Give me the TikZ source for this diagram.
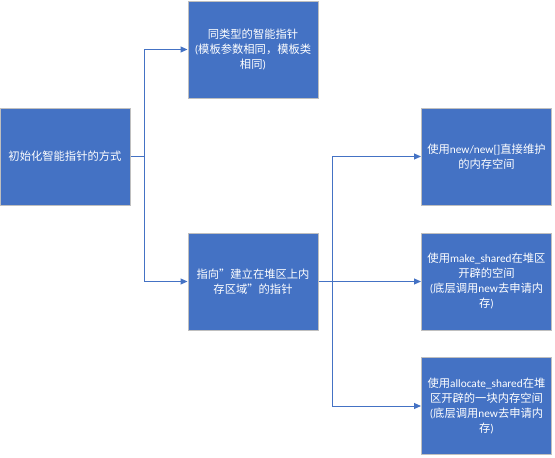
\documentclass[tikz,border=0pt]{standalone}
\usepackage{fontspec}
\setmainfont{Carlito}
\newfontfamily\cjk{Noto Sans CJK SC}
\newfontfamily\lat{Carlito}
\usetikzlibrary{arrows.meta}
\definecolor{boxblue}{HTML}{4472C4}
\definecolor{boxedge}{HTML}{BFBFBF}
\definecolor{linkblue}{HTML}{4472C4}
\tikzset{
  blk/.style={rectangle, fill=boxblue, draw=boxedge, line width=1pt,
    minimum width=130pt, minimum height=97pt, inner sep=0pt,
    text=white, align=center, font=\cjk\fontsize{11.3}{15}\selectfont},
  link/.style={draw=linkblue, line width=1pt},
  arr/.style={link, -{Triangle[length=7pt,width=6pt]}}
}
\begin{document}
\begin{tikzpicture}[x=1pt,y=-1pt]
\useasboundingbox[fill=white] (0,0) rectangle (555,458);
\node[blk] (A) at (65,156.5) {初始化智能指针的方式};
\node[blk] (B) at (253,49.5) {同类型的智能指针\\{\lat(}模板参数相同，模板类\\相同{\lat)}};
\node[blk] (C) at (253,281.5) {指向”建立在堆区上内\\存区域”的指针};
\node[blk] (D) at (486.5,156.5) {使用{\lat new/new[]}直接维护\\的内存空间};
\node[blk] (E) at (486.5,281.5) {使用{\lat make\_shared}在堆区\\开辟的空间\\{\lat(}底层调用{\lat new}去申请内\\存{\lat)}};
\node[blk] (F) at (486.5,406) {使用{\lat allocate\_shared}在堆\\区开辟的一块内存空间\\{\lat(}底层调用{\lat new}去申请内\\存{\lat)}};
\coordinate (j1) at (144,156.5);
\coordinate (j2) at (332,281.5);
\draw[link] (A.east) -- (j1);
\draw[arr] (j1) |- (B.west);
\draw[arr] (j1) |- (C.west);
\draw[arr] (C.east) -- (E.west);
\draw[arr] (j2) |- (D.west);
\draw[arr] (j2) |- (F.west);
\end{tikzpicture}
\end{document}
